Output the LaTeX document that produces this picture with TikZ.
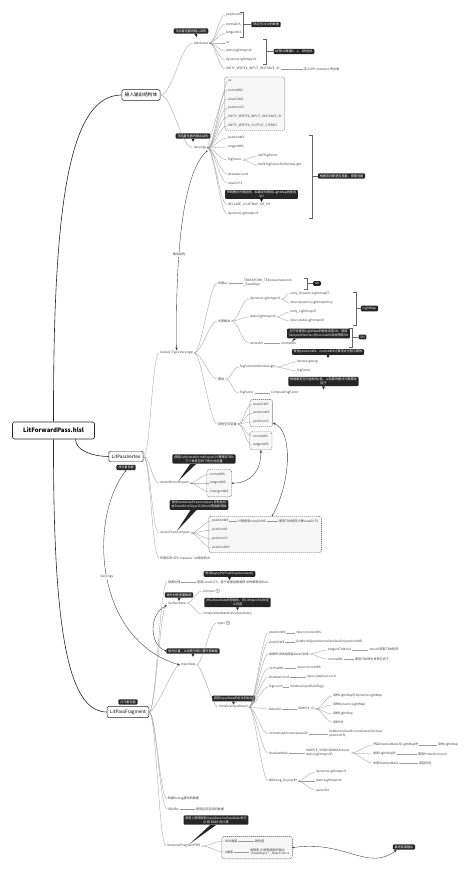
\documentclass[tikz,border=0pt]{standalone}
\usepackage{fontspec}
\setmainfont{Noto Sans CJK SC}
\usetikzlibrary{calc, fit, backgrounds, arrows.meta}

\tikzset{
    root/.style={draw=black!85, line width=0.6pt, rounded corners=2pt, fill=white,
        font=\bfseries\fontsize{6}{7}\selectfont, minimum width=82pt, minimum height=17pt},
    topic/.style={draw=black!85, line width=0.45pt, rounded corners=1.5pt, fill=white,
        font=\fontsize{4.6}{5.2}\selectfont, inner xsep=3pt, minimum height=10.5pt},
    leaf/.style={anchor=west, inner sep=0.8pt, text=black!75, font=\fontsize{3.1}{3.9}\selectfont},
    note/.style={fill=black!85, text=white, rounded corners=1pt, inner xsep=1.8pt, inner ysep=1.2pt,
        align=center, font=\fontsize{3.1}{3.9}\selectfont},
    notefill/.style={fill=black!85},
    group/.style={draw=black!70, dash pattern=on 1.2pt off 0.8pt, rounded corners=2.5pt,
        fill=black!3, line width=0.35pt, inner sep=2.2pt},
    trunk/.style={draw=black!85, line width=0.6pt},
    branch/.style={draw=black!40, line width=0.3pt},
    brk/.style={draw=black!60, line width=0.35pt},
    link/.style={draw=black!80, line width=0.35pt, {Circle[length=1.6pt]}-{Stealth[length=3pt]}},
    fan/.style={to path={.. controls +(#1,0) and +(-#1,0) .. (\tikztotarget) \tikztonodes}},
    fan/.default=7,
}

\begin{document}
\begin{tikzpicture}[x=1pt, y=-1pt]
            \useasboundingbox (0,0) rectangle (474,872);

            \node[root]  (LFP)  at (53.5, 430.5) {LitForwardPass.hlsl};
            \node[topic] (IO)   at (141, 95)     {输入输出结构体};
            \node[topic] (LPV)  at (126, 456.5)  {LitPassVertex};
            \node[topic] (LPF)  at (128, 712)    {LitPassFragment};
            \node[note]  (LPVn) at (126, 467.5)  {顶点着色器};
            \node[note]  (LPFn) at (128, 702)    {片元着色器};

            \node[leaf] (ATT)   at (193, 43)  {Attributes};
            \node[note] (ATTn)  at (191, 31)  {顶点着色器的输入结构};
            \node[leaf] (posOS) at (225, 15)  {positionOS};
            \node[leaf] (nrmOS) at (225, 24)  {normalOS};
            \node[leaf] (tanOS) at (225, 33)  {tangentOS};
            \node[leaf] (texUV) at (225, 43)  {uv};
            \node[leaf] (stLmA) at (225, 51)  {staticLightmapUV};
            \node[leaf] (dyLmA) at (225, 60)  {dynamicLightmapUV};
            \node[leaf] (insA)  at (225, 69)  {UNITY\_VERTEX\_INPUT\_INSTANCE\_ID};
            \node[leaf] (insAd) at (303, 69)  {定义GPU Instance 的ID值};
            \node[note] (osTag) at (266, 24.5) {顶点在OS中的数据};
            \node[note] (uvTag) at (294, 51.5) {纹理UV数据0、1、2的坐标};

            \node[leaf] (VAR)   at (193, 148) {Varyings};
            \node[note] (VARn)  at (193, 136) {顶点着色器的输出结构};
            \node[leaf] (vUV)   at (227, 81)  {uv};
            \node[leaf] (vNrm)  at (227, 90)  {normalWS};
            \node[leaf] (vView) at (227, 99)  {viewDirWS};
            \node[leaf] (vPCS)  at (227, 108) {positionCS};
            \node[leaf] (vIns)  at (227, 117) {UNITY\_VERTEX\_INPUT\_INSTANCE\_ID};
            \node[leaf] (vSte)  at (227, 126) {UNITY\_VERTEX\_OUTPUT\_STEREO};
            \node[leaf] (vPWS)  at (227, 138) {positionWS};
            \node[leaf] (vTan)  at (227, 147) {tangentWS};
            \node[leaf] (vFog)  at (227, 160) {fogFactor};
            \node[leaf] (vFogA) at (257, 156) {half fogFactor};
            \node[leaf] (vFogB) at (257, 165) {half4 fogFactorAndVertexLight};
            \node[leaf] (vShd)  at (227, 174) {shadowCoord};
            \node[leaf] (vVTS)  at (227, 183) {viewDirTS};
            \node[note] (vDcln) at (261.5, 194.5) {声明静态光照贴图，如果没有使用LightMap则使用\\SH};
            \node[leaf] (vDcl)  at (227, 205) {DECLARE\_LIGHTMAP\_OR\_SH};
            \node[leaf] (vDyn)  at (227, 214) {dynamicLightmapUV};
            \node[note] (varTag) at (341.5, 176) {根据宏判断是否需要，按需创建};

            \node[leaf] (OUT)   at (159, 353) {Output (Type:Varyings)};
            \node[leaf] (oUV)   at (217, 283) {处理uv};
            \node[leaf, align=left] (oUVt) at (243, 283) {TRANSFORM\_TEX(input.texcoord,\\\_BaseMap)};
            \node[note] (uvTag2) at (317, 283.5) {UV};
            \node[leaf] (oLit)  at (217, 321) {光照相关};
            \node[leaf] (oDyn)  at (249, 299) {dynamicLightmapUV};
            \node[leaf] (oDynA) at (289, 294) {unity\_DynamicLightmapST};
            \node[leaf] (oDynB) at (289, 303) {input.dynamicLightmapUV.xy};
            \node[leaf] (oSta)  at (249, 317) {staticLightmapUV};
            \node[leaf] (oStaA) at (289, 312) {unity\_LightmapST};
            \node[leaf] (oStaB) at (289, 321) {input.staticLightmapUV};
            \node[note] (lmTag) at (369.5, 308.5) {LightMap};
            \node[leaf] (oSH)   at (249, 343) {vertexSH};
            \node[leaf] (oSHn)  at (280, 343) {normalWS};
            \node[note] (oSHt)  at (318.5, 333.5) {对于未使用LightMap的物体采用SH，使用\\SampleSHVertex 对normalWS采样得到SH};
            \node[note] (shTag) at (362.5, 337) {SH};
            \node[leaf] (oFog)  at (217, 379) {雾效};
            \node[leaf] (oFVL)  at (239, 367) {fogFactorAndVertexLight};
            \node[leaf] (oFVLa) at (296, 362) {VertexLighting};
            \node[leaf] (oFVLb) at (296, 371) {fogFactor};
            \node[note] (oFVLt) at (328, 352) {使用positionWS、normalWS计算顶点光照与雾效};
            \node[leaf] (oFF)   at (239, 393) {fogFactor};
            \node[leaf] (oFFc)  at (270, 393) {ComputeFogFactor};
            \node[note] (oFFt)  at (323.5, 381.5) {根据裁剪空间坐标的z值，以及雾的模式计算雾效\\因子};
            \node[leaf] (oOth)  at (217, 424) {其他空间变量};
            \node[leaf] (oVW)   at (252, 404) {viewDirWS};
            \node[leaf] (oPW)   at (252, 413) {positionWS};
            \node[leaf] (oPC)   at (252, 422) {positionCS};
            \node[leaf] (oNW)   at (252, 436) {normalWS};
            \node[leaf] (oTW)   at (252, 445) {tangentWS};

            \node[leaf] (VNI)   at (159, 483) {vertexNormalInputs};
            \node[note] (VNIn)  at (204, 459) {使用GetVertexNormalInputs 计算得到TBN\\三个世界空间下的方向向量};
            \node[leaf] (nN)    at (209, 474) {normalWS};
            \node[leaf] (nT)    at (209, 483) {tangentWS};
            \node[leaf] (nB)    at (209, 492) {bitangentWS};
            \node[leaf] (VPI)   at (159, 533) {vertexPositionInputs};
            \node[note] (VPIn)  at (199, 505) {使用GetVertexPositionInputs 获取坐标\\由TransformObjectToWorld等函数转换};
            \node[leaf] (pW)    at (211, 521) {positionWS};
            \node[leaf] (pWa)   at (237, 521) {计算得到viewDirWS};
            \node[leaf] (pWb)   at (278, 521) {使用TBN矩阵计算viewDirTS};
            \node[leaf] (pV)    at (211, 530) {positionVS};
            \node[leaf] (pC)    at (211, 539) {positionCS};
            \node[leaf] (pN)    at (211, 548) {positionNDC};
            \node[leaf] (INS)   at (159, 558) {传递实例 GPU Instance \ UV相关的ID};

            \node[leaf] (PAR)   at (167, 582) {视差处理};
            \node[leaf] (PARa)  at (196, 582) {使用viewDirTS，基于视差贴图偏移 采样偏移后的uv};
            \node[note] (PARn)  at (229.5, 574) {使用ApplyPerPixelDisplacement()};
            \node[leaf] (SUR)   at (167, 603) {SurfaceData};
            \node[note] (SURn)  at (179, 595) {填充材质表面数据};
            \node[leaf] (sLit)  at (202, 591) {LitInput $\oplus$};
            \node[leaf] (sIni)  at (202, 614) {InitializeStandardLitSurfaceData()};
            \node[note] (sInin) at (237.5, 602.5) {对SurfaceData的初始化，在LitInput.hlsl中定\\义内容};
            \node[leaf] (IND)   at (180, 665) {InputData};
            \node[note] (INDn)  at (193, 651) {填充位置、法线等光照计算所需数据};
            \node[leaf] (iInp)  at (216, 623) {Input $\oplus$};
            \node[leaf] (iIni)  at (218, 707) {InitializeInputData()};
            \node[note] (iInin) at (233.5, 698.5) {调用InputData的方法初始化};

            \node[leaf] (dPW)   at (268, 633) {positionWS};
            \node[leaf] (dPWa)  at (295, 633) {input.positionWS};
            \node[leaf] (dVW)   at (268, 642) {viewDirWS};
            \node[leaf] (dVWa)  at (295, 642) {GetWorldSpaceNormalizeViewDir(positionWS)};
            \node[leaf] (dNM)   at (268, 654) {如果有法线贴图或Detail法线};
            \node[leaf] (dNMa)  at (327, 650) {tangentToWorld};
            \node[leaf] (dNMb)  at (368, 650) {input中获取TBN矩阵};
            \node[leaf] (dNMc)  at (327, 659) {normalWS};
            \node[leaf] (dNMd)  at (354, 659) {使用TBN转为世界空间下};
            \node[leaf] (dNW)   at (268, 668) {normalWS};
            \node[leaf] (dNWa)  at (296, 668) {input.normalWS};
            \node[leaf] (dSC)   at (268, 677) {shadowCoord};
            \node[leaf] (dSCa)  at (306, 677) {input.shadowCoord};
            \node[leaf] (dFC)   at (268, 687) {fogCoord};
            \node[leaf] (dFCa)  at (289, 687) {InitializeInputDataFog()};
            \node[leaf] (dGI)   at (268, 709) {bakedGI};
            \node[leaf] (dGIa)  at (297, 709) {SAMPLE\_GI};
            \node[leaf] (dGIb)  at (332, 696) {采样LightMap与DynamicLightMap};
            \node[leaf] (dGIc)  at (332, 705) {采样DynamicLightMap};
            \node[leaf] (dGId)  at (332, 714) {采样LightMap};
            \node[leaf] (dGIe)  at (332, 722) {采样SH};
            \node[leaf] (dSS)   at (268, 734) {normalizedScreenSpaceUV};
            \node[leaf, align=left] (dSSa) at (328, 734) {GetNormalizedScreenSpaceUV(input.\\positionCS)};
            \node[leaf] (dSM)   at (268, 753) {shadowMask};
            \node[leaf, align=left] (dSMa) at (305, 753) {SAMPLE\_SHADOWMASK(input.\\staticLightmapUV)};
            \node[leaf] (dSMb)  at (372, 745) {开启ShadowMask与LightMap时};
            \node[leaf] (dSMc)  at (437, 745) {采样LightMap};
            \node[leaf] (dSMd)  at (372, 754) {关闭LightMap时};
            \node[leaf] (dSMe)  at (417, 754) {使用ProbeOcclusion};
            \node[leaf] (dSMf)  at (372, 763) {关闭ShadowMask};
            \node[leaf] (dSMg)  at (418, 763) {返回白色};
            \node[leaf] (dDB)   at (268, 781) {如Debug\_Display时};
            \node[leaf] (dDBa)  at (315, 772) {dynamicLightmapUV};
            \node[leaf] (dDBb)  at (315, 781) {staticLightmapUV};
            \node[leaf] (dDBc)  at (315, 790) {vertexSH};

            \node[leaf] (DBG)   at (167, 799) {构建Debug使用的数据};
            \node[leaf] (GBF)   at (167, 809) {GBuffer};
            \node[leaf] (GBFa)  at (195, 809) {使用延迟渲染的数据};
            \node[leaf] (PBR)   at (166, 846) {UniversalFragmentPBR};
            \node[note] (PBRn)  at (216, 820) {使用上面得到的InputData SurfaceData 进行\\GI 和 BRDF 的计算};
            \node[leaf] (cRGB)  at (224, 841) {RGB通道};
            \node[leaf] (cRGBa) at (254, 841) {颜色值};
            \node[leaf] (cA)    at (224, 852) {A通道};
            \node[leaf, align=left] (cAa) at (249, 852) {透明度 半透明使用的输出\\\_BaseMap.a * \_BaseColor.a};
            \node[note] (FIN)   at (404, 847) {最终结果输出};

            \begin{scope}[on background layer]
                \fill[white] (0,0) rectangle (474,872);
                \node[group, fit=(vUV)(vIns)(vSte)] (gVar) {};
                \node[group, fit=(oVW)(oPW)(oPC)] (gPos) {};
                \node[group, fit=(oNW)(oTW)] (gNrm) {};
                \node[group, fit=(nN)(nT)(nB)] (gVNI) {};
                \node[group, fit=(pW)(pWb)(pN)] (gVPI) {};
                \node[group, fit=(cRGB)(cAa)] (gPBR) {};
            \end{scope}

            \draw[trunk] (LFP.north) .. controls (53, 200) and (70, 95) .. (IO.west);
            \draw[trunk] ($(LFP.south)+(22,0)$) .. controls +(0,12) and +(-14,0) .. (LPV.west);
            \draw[trunk] (LFP.south) .. controls (53, 640) and (70, 712) .. (LPF.west);

            \draw[branch] (IO.east) to[fan=12] (ATT.west);
            \draw[branch] (IO.east) to[fan=12] (VAR.west);

            \draw[branch] (ATT.east) to[fan=6] (posOS.west);
            \draw[branch] (ATT.east) to[fan=6] (nrmOS.west);
            \draw[branch] (ATT.east) to[fan=6] (tanOS.west);
            \draw[branch] (ATT.east) to[fan=6] (texUV.west);
            \draw[branch] (ATT.east) to[fan=6] (stLmA.west);
            \draw[branch] (ATT.east) to[fan=6] (dyLmA.west);
            \draw[branch] (ATT.east) to[fan=6] (insA.west);
            \draw[branch] (insA.east) -- (insAd.west);
            \draw[brk] (240, 12) -- (243, 12) -- (243, 37) -- (240, 37);
            \draw[brk] (243, 24.5) -- (osTag.west);
            \draw[brk] (263, 39) -- (266, 39) -- (266, 64) -- (263, 64);
            \draw[brk] (266, 51.5) -- (uvTag.west);

            \draw[branch] (VAR.east) to (vUV.west);
            \draw[branch] (VAR.east) to[fan] (vNrm.west);
            \draw[branch] (VAR.east) to[fan] (vView.west);
            \draw[branch] (VAR.east) to[fan] (vPCS.west);
            \draw[branch] (VAR.east) to[fan] (vIns.west);
            \draw[branch] (VAR.east) to[fan] (vSte.west);
            \draw[branch] (VAR.east) to[fan] (vPWS.west);
            \draw[branch] (VAR.east) to[fan] (vTan.west);
            \draw[branch] (VAR.east) to[fan] (vFog.west);
            \draw[branch] (VAR.east) to[fan] (vShd.west);
            \draw[branch] (VAR.east) to[fan] (vVTS.west);
            \draw[branch] (VAR.east) to[fan] (vDcl.west);
            \draw[branch] (VAR.east) to[fan] (vDyn.west);
            \draw[branch] (vFog.east) to[fan=5] (vFogA.west);
            \draw[branch] (vFog.east) to[fan=5] (vFogB.west);
            \draw[brk] (309, 135) -- (312, 135) -- (312, 218) -- (309, 218);
            \draw[brk] (312, 176) -- (varTag.west);

            \draw[link] (VAR.south east) .. controls (176, 180) and (176, 300) .. (OUT.north)
                node[leaf, anchor=center, fill=white, pos=0.55] (lblOut) {输出结构};

            \draw[branch] (LPV.east) to[fan] (OUT.west);
            \draw[branch] (LPV.east) to[fan] (VNI.west);
            \draw[branch] (LPV.east) to[fan] (VPI.west);
            \draw[branch] (LPV.east) to[fan] (INS.west);

            \draw[branch] (OUT.east) to[fan] (oUV.west);
            \draw[branch] (OUT.east) to[fan] (oLit.west);
            \draw[branch] (OUT.east) to[fan] (oFog.west);
            \draw[branch] (OUT.east) to[fan] (oOth.west);
            \draw[branch] (oUV.east) -- (oUVt.west);
            \draw[brk] (304, 278) -- (307, 278) -- (307, 289) -- (304, 289);
            \draw[brk] (307, 283.5) -- (uvTag2.west);
            \draw[branch] (oLit.east) to[fan] (oDyn.west);
            \draw[branch] (oLit.east) to[fan] (oSta.west);
            \draw[branch] (oLit.east) to[fan] (oSH.west);
            \draw[branch] (oDyn.east) to[fan=4] (oDynA.west);
            \draw[branch] (oDyn.east) to[fan=4] (oDynB.west);
            \draw[branch] (oSta.east) to[fan=4] (oStaA.west);
            \draw[branch] (oSta.east) to[fan=4] (oStaB.west);
            \draw[branch] (oSH.east) -- (oSHn.west);
            \draw[brk] (353, 292) -- (356, 292) -- (356, 325) -- (353, 325);
            \draw[brk] (356, 308.5) -- (lmTag.west);
            \draw[brk] (349, 328) -- (352, 328) -- (352, 347) -- (349, 347);
            \draw[brk] (352, 337) -- (shTag.west);
            \draw[branch] (oFog.east) to[fan] (oFVL.west);
            \draw[branch] (oFog.east) to[fan] (oFF.west);
            \draw[branch] (oFVL.east) to[fan=6] (oFVLa.west);
            \draw[branch] (oFVL.east) to[fan=6] (oFVLb.west);
            \draw[branch] (oFF.east) -- (oFFc.west);
            \draw[branch] (oOth.east) to[fan=6] (oVW.west);
            \draw[branch] (oOth.east) to[fan=6] (oPW.west);
            \draw[branch] (oOth.east) to[fan=6] (oPC.west);
            \draw[branch] (oOth.east) to[fan=6] (oNW.west);
            \draw[branch] (oOth.east) to[fan=6] (oTW.west);

            \draw[branch] (VNI.east) to[fan=6] (nN.west);
            \draw[branch] (VNI.east) to[fan=6] (nT.west);
            \draw[branch] (VNI.east) to[fan=6] (nB.west);
            \draw[branch] (VPI.east) to[fan=6] (pW.west);
            \draw[branch] (VPI.east) to[fan=6] (pV.west);
            \draw[branch] (VPI.east) to[fan=6] (pC.west);
            \draw[branch] (VPI.east) to[fan=6] (pN.west);
            \draw[branch] (pW.east) -- (pWa.west);
            \draw[branch] (pWa.east) -- (pWb.west);

            \draw[link] (gVNI.east) .. controls (250, 483) and (261, 472) .. (gNrm.south);
            \draw[link] ($(gVPI.north)+(7,0)$) .. controls (292, 480) and (292, 430) .. ($(gPos.south east)+(0,-4)$);
            \draw[link] (LPVn.south) .. controls (88, 520) and (95, 640) .. (IND.west)
                node[leaf, anchor=center, fill=white, pos=0.5] (lblVar) {Varyings};
            \draw[link] (INDn.west) .. controls (150, 645) and (148, 615) .. (SUR.south west);

            \draw[branch] (LPF.east) to[fan] (PAR.west);
            \draw[branch] (LPF.east) to[fan] (SUR.west);
            \draw[branch] (LPF.east) to[fan] (IND.west);
            \draw[branch] (LPF.east) to[fan] (DBG.west);
            \draw[branch] (LPF.east) to[fan] (GBF.west);
            \draw[branch] (LPF.east) to[fan] (PBR.west);
            \draw[branch] (PAR.east) -- (PARa.west);
            \draw[branch] (SUR.east) to[fan=6] (sLit.west);
            \draw[branch] (SUR.east) to[fan=6] (sIni.west);
            \draw[branch] (IND.east) to[fan=6] (iInp.west);
            \draw[branch] (IND.east) to[fan=6] (iIni.west);

            \draw[branch] (iIni.east) to[fan=6] (dPW.west);
            \draw[branch] (iIni.east) to[fan=6] (dVW.west);
            \draw[branch] (iIni.east) to[fan=6] (dNM.west);
            \draw[branch] (iIni.east) to[fan=6] (dNW.west);
            \draw[branch] (iIni.east) to[fan=6] (dSC.west);
            \draw[branch] (iIni.east) to[fan=6] (dFC.west);
            \draw[branch] (iIni.east) to[fan=6] (dGI.west);
            \draw[branch] (iIni.east) to[fan=6] (dSS.west);
            \draw[branch] (iIni.east) to[fan=6] (dSM.west);
            \draw[branch] (iIni.east) to[fan=6] (dDB.west);
            \draw[branch] (dPW.east) -- (dPWa.west);
            \draw[branch] (dVW.east) -- (dVWa.west);
            \draw[branch] (dNM.east) to[fan=6] (dNMa.west);
            \draw[branch] (dNM.east) to[fan=6] (dNMc.west);
            \draw[branch] (dNMa.east) -- (dNMb.west);
            \draw[branch] (dNMc.east) -- (dNMd.west);
            \draw[branch] (dNW.east) -- (dNWa.west);
            \draw[branch] (dSC.east) -- (dSCa.west);
            \draw[branch] (dFC.east) -- (dFCa.west);
            \draw[branch] (dGI.east) -- (dGIa.west);
            \draw[branch] (dGIa.east) to[fan=6] (dGIb.west);
            \draw[branch] (dGIa.east) to[fan=6] (dGIc.west);
            \draw[branch] (dGIa.east) to[fan=6] (dGId.west);
            \draw[branch] (dGIa.east) to[fan=6] (dGIe.west);
            \draw[branch] (dSS.east) -- (dSSa.west);
            \draw[branch] (dSM.east) -- (dSMa.west);
            \draw[branch] (dSMa.east) to[fan=6] (dSMb.west);
            \draw[branch] (dSMa.east) to[fan=6] (dSMd.west);
            \draw[branch] (dSMa.east) to[fan=6] (dSMf.west);
            \draw[branch] (dSMb.east) -- (dSMc.west);
            \draw[branch] (dSMd.east) -- (dSMe.west);
            \draw[branch] (dSMf.east) -- (dSMg.west);
            \draw[branch] (dDB.east) to[fan=6] (dDBa.west);
            \draw[branch] (dDB.east) to[fan=6] (dDBb.west);
            \draw[branch] (dDB.east) to[fan=6] (dDBc.west);

            \draw[branch] (GBF.east) -- (GBFa.west);
            \draw[branch] (PBR.east) to[fan=8] (cRGB.west);
            \draw[branch] (PBR.east) to[fan=8] (cA.west);
            \draw[branch] (cRGB.east) -- (cRGBa.west);
            \draw[branch] (cA.east) -- (cAa.west);
            \draw[link] (gPBR.east) .. controls (345, 840) and (368, 872) .. ($(FIN.south west)+(4,0)$);

            \fill[notefill] ($(ATTn.south)+(3,0)$) -- ($(ATTn.south)+(6,3.5)$) -- ($(ATTn.south)+(6,0)$) -- cycle;
            \fill[notefill] ($(VARn.south)+(-1.5,0)$) -- ($(VARn.south)+(0,3)$) -- ($(VARn.south)+(1.5,0)$) -- cycle;
            \fill[notefill] ($(vDcln.south)+(-1.5,0)$) -- ($(vDcln.south)+(0,3)$) -- ($(vDcln.south)+(1.5,0)$) -- cycle;
            \fill[notefill] ($(oSHt.south west)+(7,0)$) -- ($(oSHt.south west)+(5,3)$) -- ($(oSHt.south west)+(10,0)$) -- cycle;
            \fill[notefill] ($(oFVLt.south)+(-1.5,0)$) -- ($(oFVLt.south)+(0,3)$) -- ($(oFVLt.south)+(1.5,0)$) -- cycle;
            \fill[notefill] ($(oFFt.south)+(-1.5,0)$) -- ($(oFFt.south)+(0,3)$) -- ($(oFFt.south)+(1.5,0)$) -- cycle;
            \fill[notefill] ($(VNIn.south west)+(18,0)$) -- ($(VNI.north)+(4,0.5)$) -- ($(VNIn.south west)+(24,0)$) -- cycle;
            \fill[notefill] ($(VPIn.south west)+(21,0)$) -- ($(VPI.north)+(2,0.5)$) -- ($(VPIn.south west)+(27,0)$) -- cycle;
            \fill[notefill] ($(PARn.south)+(-1.5,0)$) -- ($(PARn.south)+(0,3)$) -- ($(PARn.south)+(1.5,0)$) -- cycle;
            \fill[notefill] ($(SURn.south)+(-1.5,0)$) -- ($(SURn.south)+(0,3)$) -- ($(SURn.south)+(1.5,0)$) -- cycle;
            \fill[notefill] ($(sInin.south)+(-1.5,0)$) -- ($(sInin.south)+(0,3)$) -- ($(sInin.south)+(1.5,0)$) -- cycle;
            \fill[notefill] ($(INDn.south)+(-1.5,0)$) -- ($(INDn.south)+(0,3)$) -- ($(INDn.south)+(1.5,0)$) -- cycle;
            \fill[notefill] ($(iInin.south)+(-1.5,0)$) -- ($(iInin.south)+(0,3)$) -- ($(iInin.south)+(1.5,0)$) -- cycle;
            \fill[notefill] ($(PBRn.south west)+(27,0)$) -- ($(PBR.north)+(6,0.5)$) -- ($(PBRn.south west)+(33,0)$) -- cycle;
\end{tikzpicture}
\end{document}
